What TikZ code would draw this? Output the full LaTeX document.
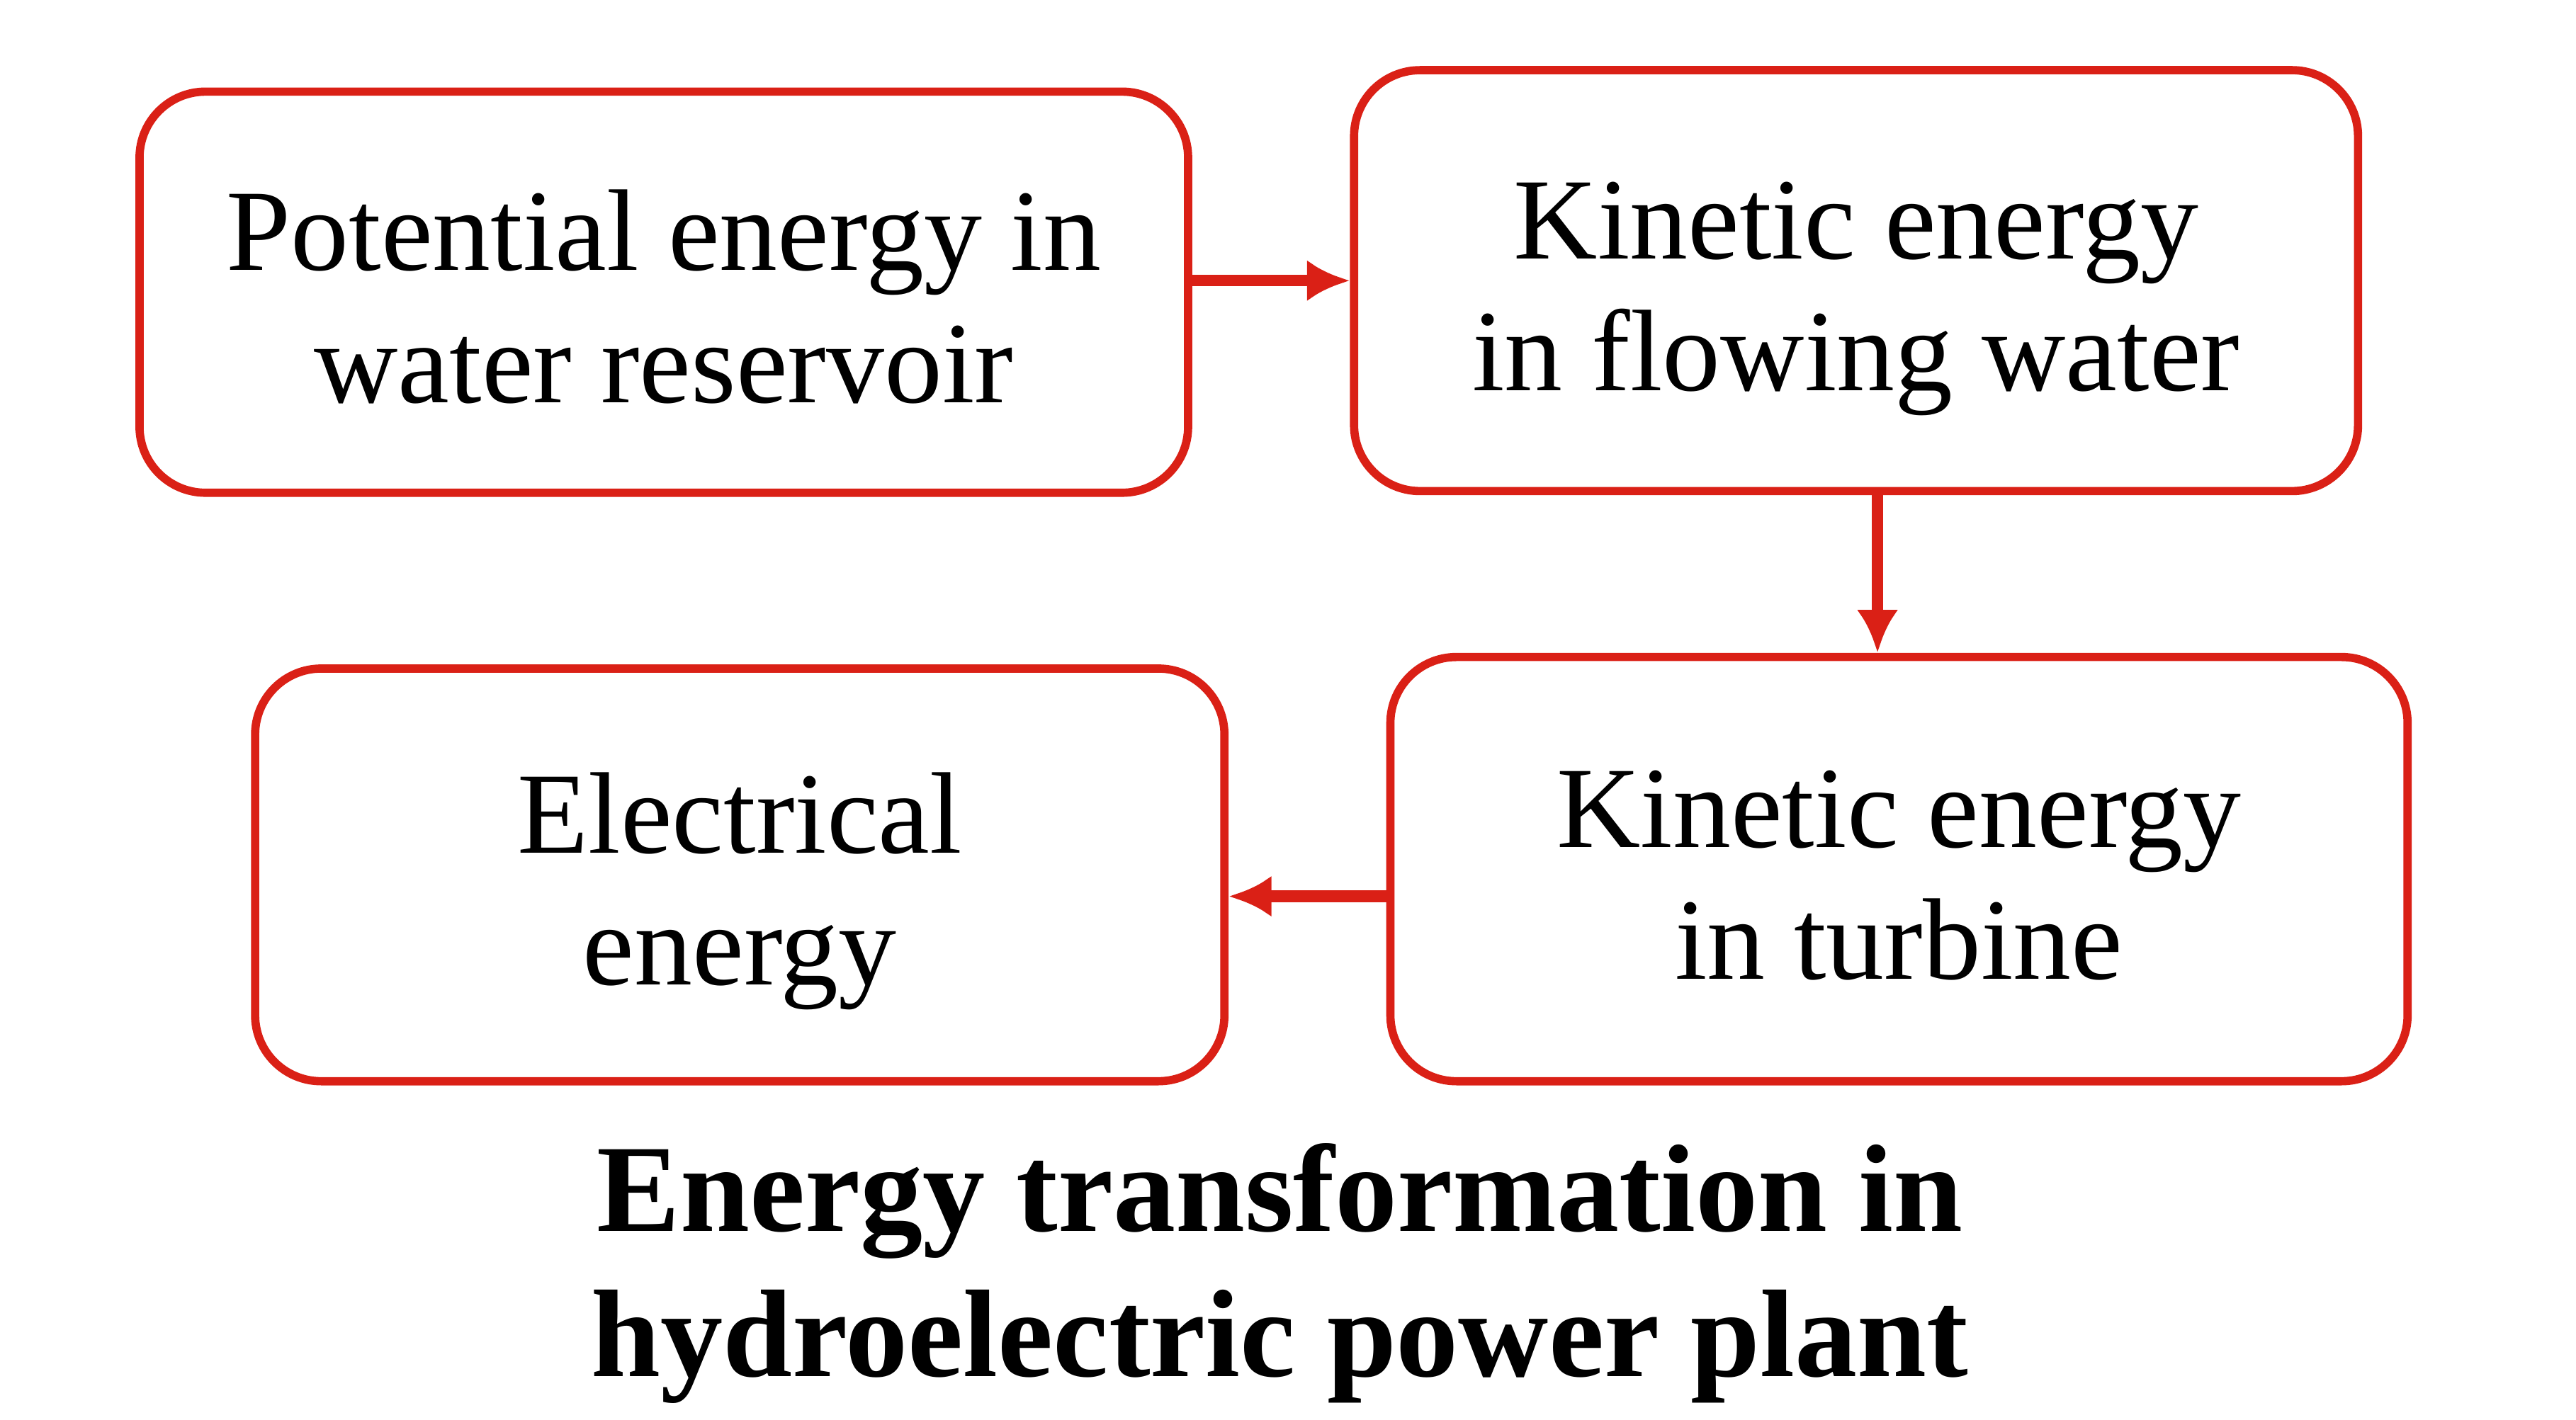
\documentclass[tikz,border=0pt]{standalone}
\usepackage{fontspec}
\setmainfont{Liberation Serif}
\usetikzlibrary{arrows.meta}
\definecolor{boxred}{RGB}{218,32,22}
\newcommand\boxlift{\rule{0pt}{39pt}}
\newcommand\boxdrop{\rule[-8.5pt]{0pt}{8.5pt}}
\tikzset{
	energybox/.style={draw=boxred, line width=0.1cm, rounded corners=0.8cm, align=center, inner sep=0pt, font=\fontsize{40}{45.5}\selectfont},
	flowarrow/.style={draw=boxred, line width=0.14cm, -{Latex[length=0.52cm,width=0.5cm]}}
}

\begin{document}
\begin{tikzpicture}
		%%%%% START %%%%%
		
		\useasboundingbox (0, 0) rectangle (31.2, -17.2);
		
		\node[energybox, minimum width=12.7cm, minimum height=4.86cm] (pot) at (8.04, -3.54) {\boxlift Potential energy in\\water reservoir\boxdrop};
		\node[energybox, minimum width=12.16cm, minimum height=5.1cm] (kinw) at (22.48, -3.4) {\boxlift Kinetic energy\\in flowing water\boxdrop};
		\node[energybox, minimum width=11.74cm, minimum height=5.0cm] (elec) at (8.96, -10.6) {\boxlift Electrical\\energy\boxdrop};
		\node[energybox, minimum width=12.32cm, minimum height=5.14cm] (turb) at (23.0, -10.53) {\boxlift Kinetic energy\\in turbine\boxdrop};
		
		\draw[flowarrow] (pot.east |- kinw.west) -- (kinw.west);
		\draw[flowarrow] ([xshift=0.26cm]kinw.south) -- ([xshift=0.26cm]kinw.south |- turb.north);
		\draw[flowarrow] ([yshift=-0.33cm]turb.west) -- ([yshift=-0.33cm]turb.west -| elec.east);
		
		\node[align=center, font=\fontsize{43}{50}\selectfont\bfseries] (caption) at (15.5, -15.43) {Energy transformation in\\hydroelectric power plant};
		
		%%%%% END %%%%%
	\end{tikzpicture}
\end{document}
